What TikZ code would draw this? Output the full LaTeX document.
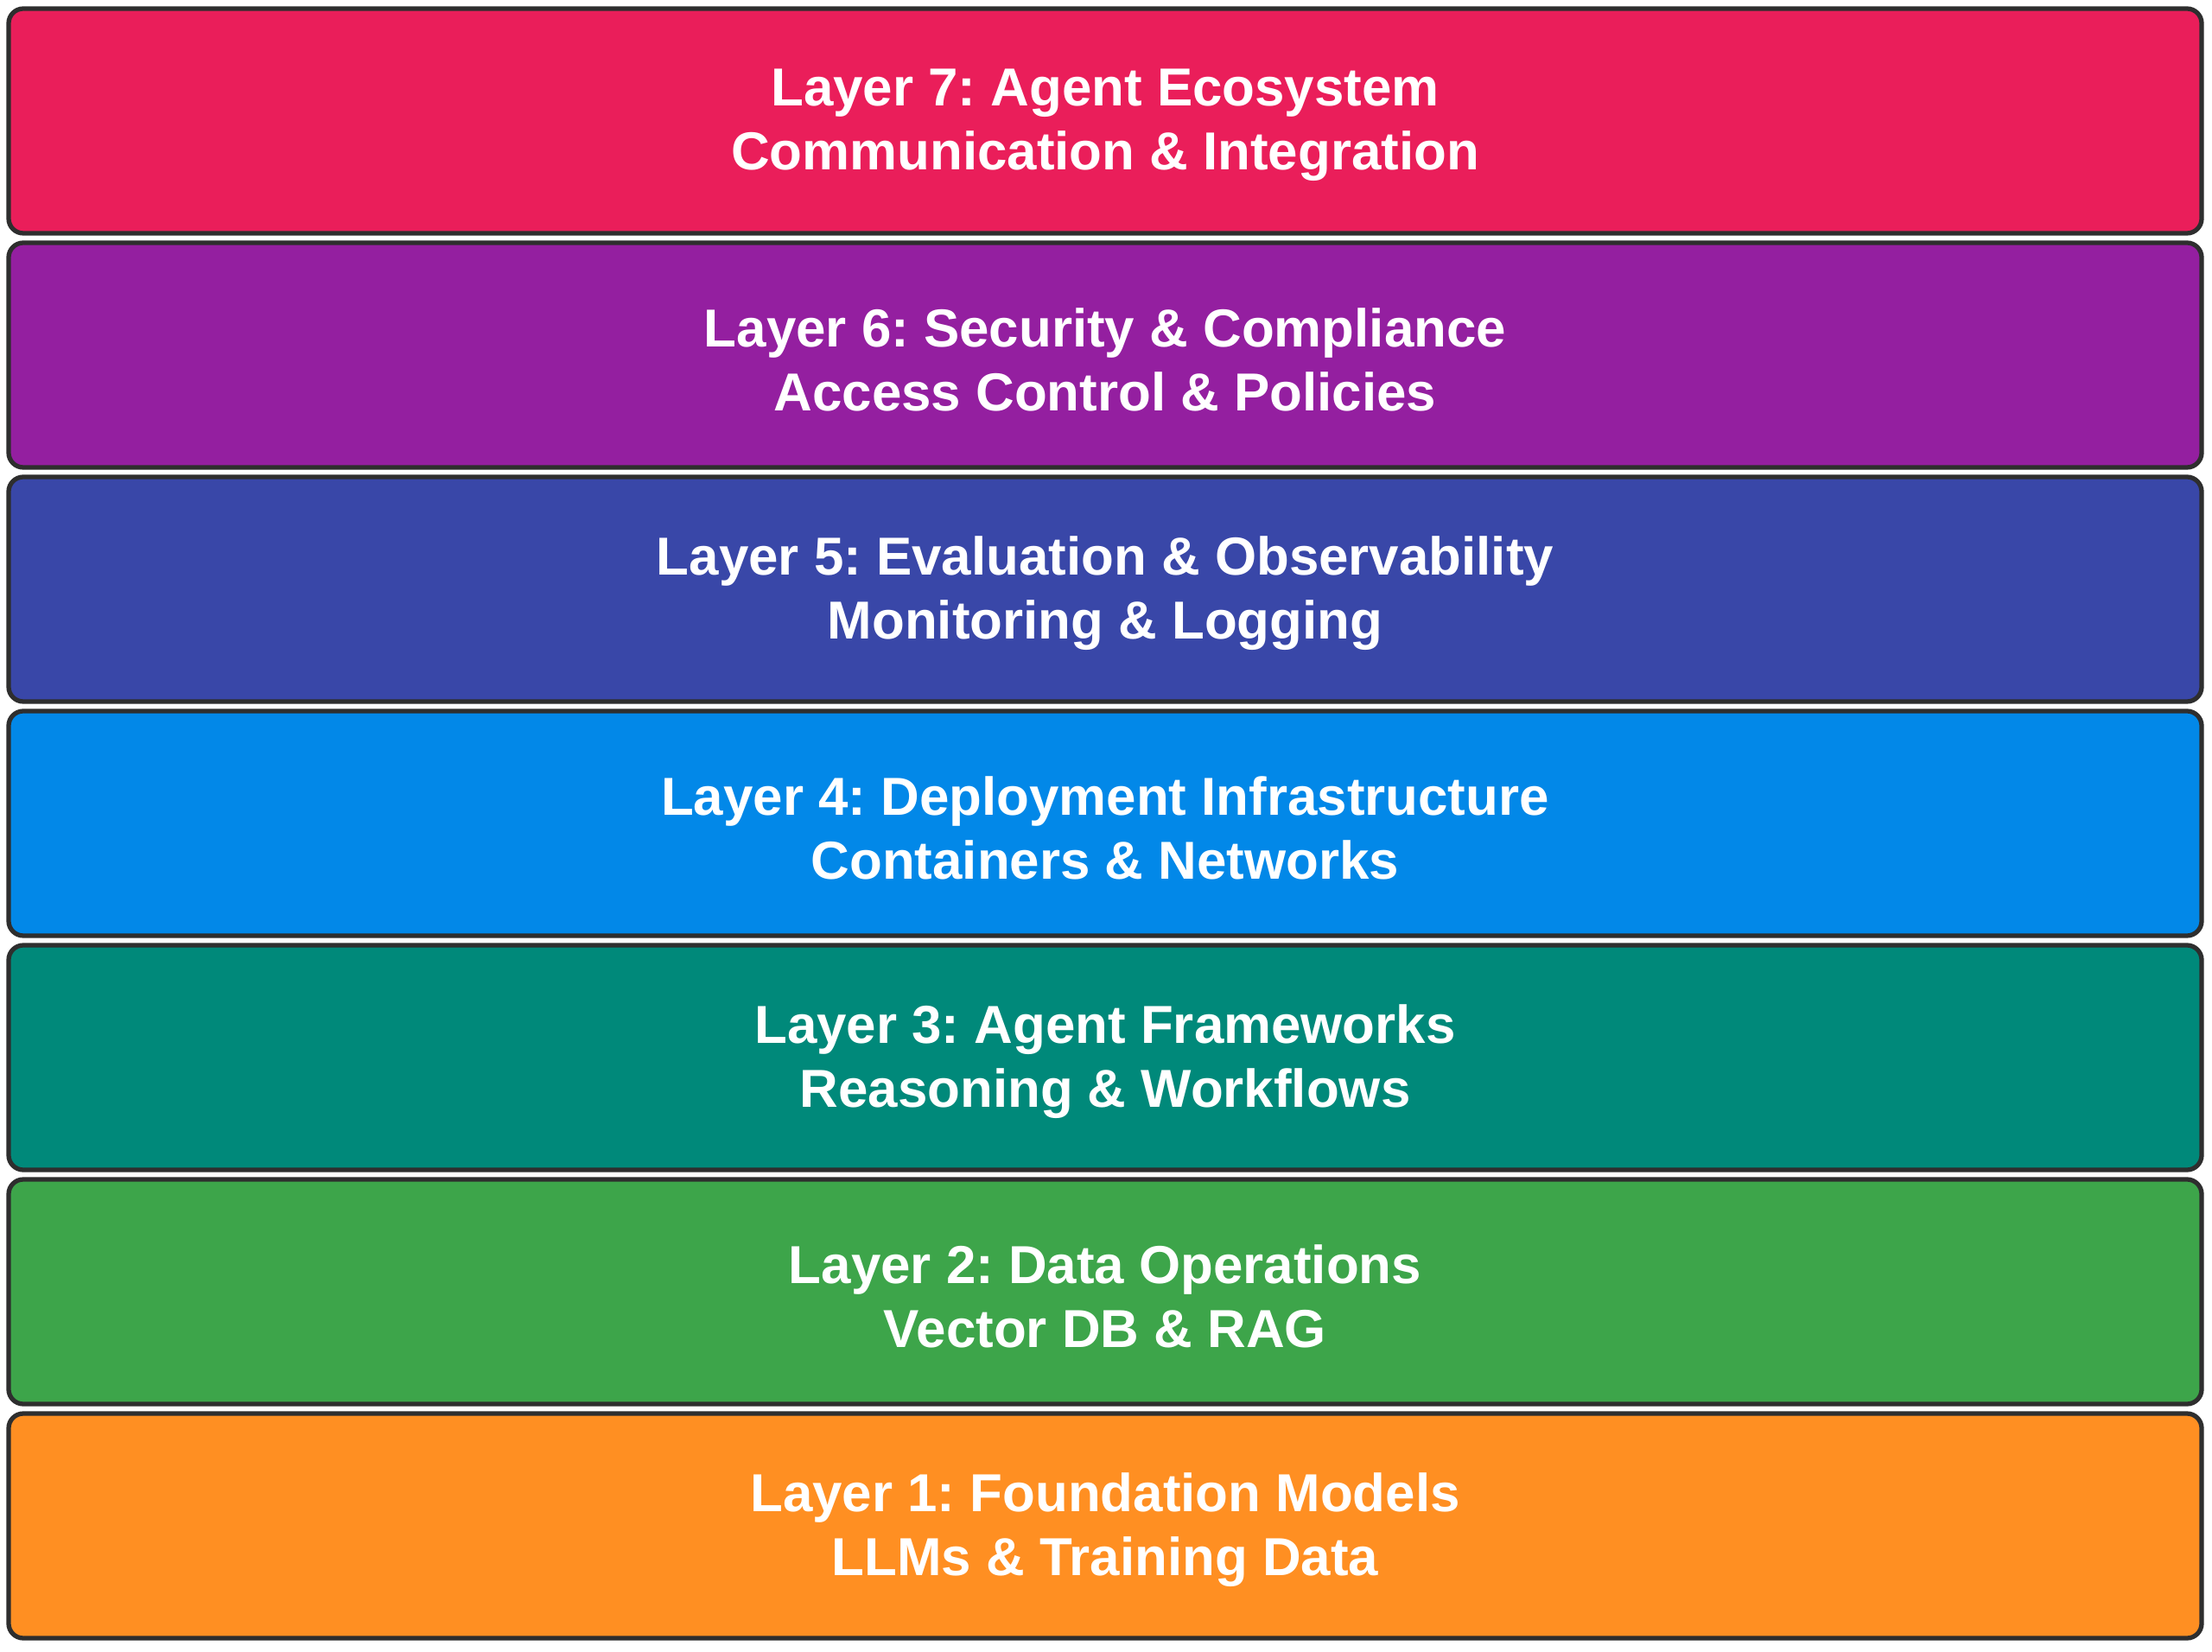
\documentclass[tikz,border=0pt]{standalone}
\usepackage{fontspec}
\setmainfont{Liberation Sans}
\frenchspacing
\definecolor{c7}{HTML}{EA1E5A}
\definecolor{c6}{HTML}{941FA0}
\definecolor{c5}{HTML}{3947A8}
\definecolor{c4}{HTML}{0288E8}
\definecolor{c3}{HTML}{00897A}
\definecolor{c2}{HTML}{3DA54A}
\definecolor{c1}{HTML}{FF8F22}
\definecolor{edge}{HTML}{2E2E2E}
\tikzset{layer/.style={draw=edge,line width=1.5pt,rounded corners=0.17cm,minimum width=25.38cm,minimum height=2.6cm,text=white,font=\bfseries\fontsize{17.6}{21}\selectfont,align=center,inner sep=0pt},
lbl/.style={text=white,font=\bfseries\fontsize{17.6}{21}\selectfont,align=center,yshift=-0.05cm}}
\begin{document}
\begin{tikzpicture}
\useasboundingbox[fill=white] (0,0) rectangle (25.6,-19.12);
\foreach \n/\y/\c/\t in {7/-1.40/c7/{Layer 7: Agent Ecosystem\\Communication \& Integration},
6/-4.11/c6/{Layer 6: Security \& Compliance\\Access Control \& Policies},
5/-6.82/c5/{Layer 5: Evaluation \& Observability\\Monitoring \& Logging},
4/-9.53/c4/{Layer 4: Deployment Infrastructure\\Containers \& Networks},
3/-12.24/c3/{Layer 3: Agent Frameworks\\Reasoning \& Workflows},
2/-14.95/c2/{Layer 2: Data Operations\\Vector DB \& RAG},
1/-17.66/c1/{Layer 1: Foundation Models\\LLMs \& Training Data}}{
\node[layer,fill=\c] (l\n) at (12.79,\y) {};
\node[lbl] (t\n) at (l\n.center) {\t};
}
\end{tikzpicture}
\end{document}
